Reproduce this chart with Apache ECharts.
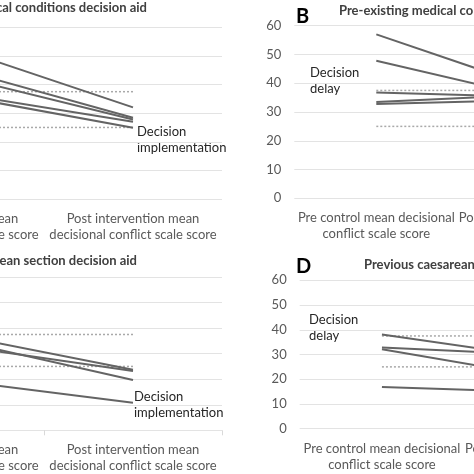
<!DOCTYPE html>
<html>
<head>
<meta charset="utf-8">
<script src="https://cdn.jsdelivr.net/npm/echarts@6/dist/echarts.min.js"></script>
<style>
  html, body { margin: 0; padding: 0; background: #fff; }
  #chart { width: 474px; height: 474px; }
</style>
</head>
<body>
<div id="chart"></div>
<script>
  // categories (x axis labels)
  var catIntervention = ['Pre intervention mean\ndecisional conflict scale score', 'Post intervention mean\ndecisional conflict scale score'];
  var catControl = ['Pre control mean decisional\nconflict scale score', 'Post control mean decisional\nconflict scale score'];

  // y axis
  var yMin = 0, yMax = 60, yStep = 10;

  // thresholds (decision delay / decision implementation)
  var delayLevel = [37.5, 37.5];
  var implLevel = [25, 25];

  // A - pre-existing medical conditions decision aid
  var panelA = [[52.9, 32.0], [45.7, 28.4], [43.1, 27.8], [37.1, 27.0], [36.3, 24.9]];
  // B - pre-existing medical conditions control
  var panelB = [[57.0, 37.6], [47.8, 34.6], [36.8, 35.2], [33.5, 36.1], [32.8, 34.2]];
  // C - caesarean section decision aid
  var panelC = [[37.5, 23.7], [33.3, 23.2], [35.4, 19.7], [19.5, 10.8]];
  // D - previous caesarean section control
  var panelD = [[38.1, 28.5], [32.8, 29.8], [32.1, 20.7], [16.9, 14.7]];

  var labelColor = '#595959';
  var lineColor = '#646464';
  var fontFam = 'Lato, "Liberation Sans", sans-serif';

  function makeX(idx, cats, showTick) {
    return {
      type: 'category', gridIndex: idx, data: cats, boundaryGap: true,
      axisLine: {show: false},
      axisTick: {show: !!showTick, length: 5, lineStyle: {color: '#d9d9d9'}},
      axisLabel: {interval: 0, color: labelColor, fontSize: 13, fontFamily: fontFam, lineHeight: 16, margin: 12}
    };
  }

  function makeY(idx) {
    return {
      type: 'value', gridIndex: idx, min: yMin, max: yMax, interval: yStep,
      axisLine: {show: false}, axisTick: {show: false},
      axisLabel: {color: labelColor, fontSize: 13, fontFamily: fontFam, margin: 13},
      splitLine: {lineStyle: {color: '#e3e3e3', width: 1}}
    };
  }

  function makeGrid(left, top, width, height) {
    return {left: left, top: top, width: width, height: height, containLabel: false, outerBoundsMode: 'none'};
  }

  var series = [];
  [panelA, panelB, panelC, panelD].forEach(function (panel, idx) {
    [delayLevel, implLevel].forEach(function (lv) {
      series.push({
        type: 'line', xAxisIndex: idx, yAxisIndex: idx, data: lv,
        showSymbol: false, silent: true, animation: false,
        lineStyle: {color: '#a9a9a9', width: 1.5, type: [2, 2]}
      });
    });
    panel.forEach(function (pair) {
      series.push({
        type: 'line', xAxisIndex: idx, yAxisIndex: idx, data: pair,
        showSymbol: false, silent: true, animation: false,
        lineStyle: {color: lineColor, width: 2}
      });
    });
  });

  function txt(text, x, y, opts) {
    opts = opts || {};
    return {
      type: 'text', x: x, y: y, silent: true,
      style: {
        text: text,
        font: opts.font || ('13px ' + fontFam),
        fill: opts.fill || '#262626',
        align: opts.align || 'left',
        verticalAlign: 'middle',
        lineHeight: opts.lineHeight || 16
      }
    };
  }

  var titleFont = 'bold 13px ' + fontFam;
  var letterFont = 'bold 20px ' + fontFam;
  var noteFont = '13px ' + fontFam;

  var chart = echarts.init(document.getElementById('chart'));
  chart.setOption({
    animation: false,
    grid: [
      makeGrid(-134, 27.3, 356, 171.7),
      makeGrid(294.3, 25.7, 328, 172.6),
      makeGrid(-134, 277, 356, 153.3),
      makeGrid(299.7, 280.3, 329, 148.4)
    ],
    xAxis: [makeX(0, catIntervention), makeX(1, catControl), makeX(2, catIntervention, true), makeX(3, catControl)],
    yAxis: [makeY(0), makeY(1), makeY(2), makeY(3)],
    series: series,
    graphic: [
      txt('Pre-existing medical conditions decision aid', 147, 8, {font: titleFont, fill: '#404040', align: 'right'}),
      txt('B', 296, 17, {font: letterFont, fill: '#000'}),
      txt('Pre-existing medical conditions control', 339, 11, {font: titleFont, fill: '#404040'}),
      txt('Caesarean section decision aid', 137, 261, {font: titleFont, fill: '#404040', align: 'right'}),
      txt('D', 296, 267, {font: letterFont, fill: '#000'}),
      txt('Previous caesarean section control', 364, 265, {font: titleFont, fill: '#404040'}),
      txt('Decision\ndelay', 310, 81, {font: noteFont}),
      txt('Decision\ndelay', 309, 328, {font: noteFont}),
      txt('Decision\nimplementation', 137, 140, {font: noteFont}),
      txt('Decision\nimplementation', 134, 405, {font: noteFont})
    ]
  });
</script>
</body>
</html>
